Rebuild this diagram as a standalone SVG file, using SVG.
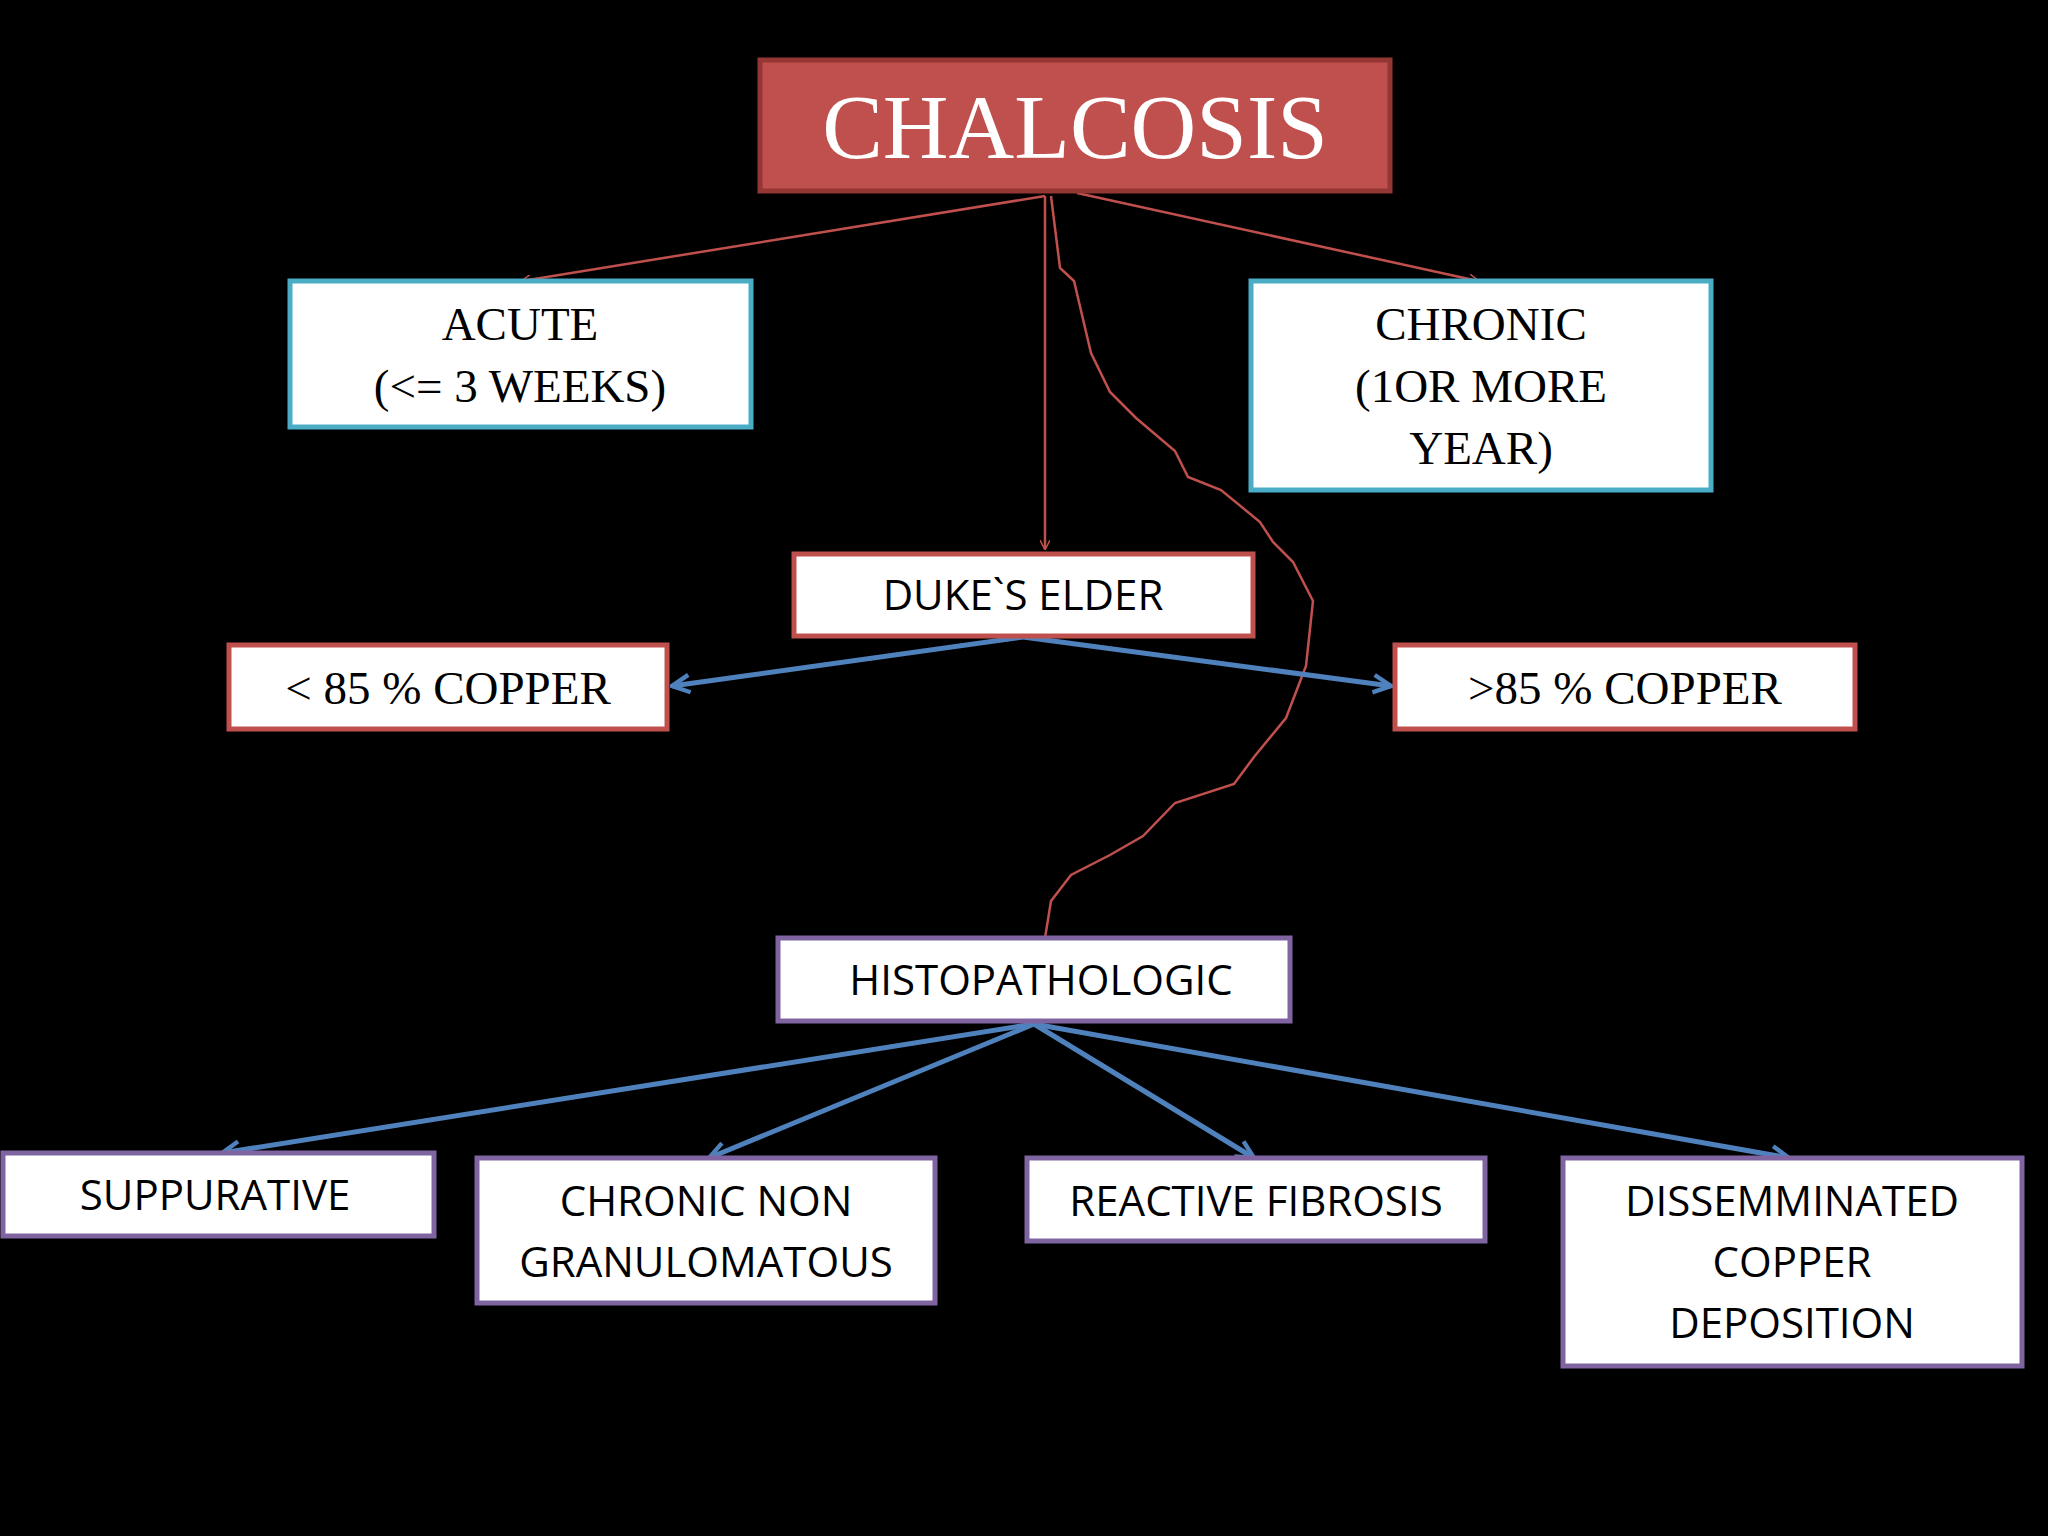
<svg xmlns="http://www.w3.org/2000/svg" width="2048" height="1536" viewBox="0 0 2048 1536">
<defs>
<style>
.box{fill:#fff;stroke-width:5}
.r{stroke:#c0504d}.b{stroke:#4bacc6}.p{stroke:#8064a2}
.serif{font-family:"Liberation Serif",serif;font-size:47px;fill:#000;text-anchor:middle}
.sans{font-family:"Open Sans","Noto Sans",sans-serif;font-size:42px;fill:#000;text-anchor:middle}
.rl{stroke:#c0504d;stroke-width:2.5;fill:none}
.bl{stroke:#4f81bd;stroke-width:5;fill:none}
</style>
<marker id="ra" viewBox="0 0 10 10" refX="9" refY="5" markerWidth="10" markerHeight="10" orient="auto" markerUnits="userSpaceOnUse"><path d="M0,0L10,5L0,10" fill="none" stroke="#c0504d" stroke-width="1.5"/></marker>
<marker id="ba" viewBox="0 0 10 10" refX="9" refY="5" markerWidth="22" markerHeight="22" orient="auto" markerUnits="userSpaceOnUse"><path d="M1,1L9,5L1,9" fill="none" stroke="#4f81bd" stroke-width="2"/></marker>
</defs>
<rect width="2048" height="1536" fill="#000"/>
<g id="connectors">
<line class="rl" x1="1045" y1="196" x2="522" y2="281" marker-end="url(#ra)"/>
<line class="rl" x1="1077" y1="193" x2="1478" y2="281" marker-end="url(#ra)"/>
<line class="rl" x1="1045" y1="196" x2="1045" y2="549" marker-end="url(#ra)"/>
<polyline class="rl" points="1051,196 1060,268 1074,281 1091,353 1110,392 1136,418 1175,451 1188,477 1221,490 1260,522 1273,542 1293,562 1313,601 1306,666 1286,718 1254,757 1234,784 1175,803 1143,836 1110,855 1071,875 1051,901 1045,938"/>
<line class="bl" x1="1023" y1="637" x2="672" y2="686" marker-end="url(#ba)"/>
<line class="bl" x1="1023" y1="637" x2="1391" y2="686" marker-end="url(#ba)"/>
<line class="bl" x1="1034" y1="1024" x2="222" y2="1153" marker-end="url(#ba)"/>
<line class="bl" x1="1034" y1="1024" x2="709" y2="1158" marker-end="url(#ba)"/>
<line class="bl" x1="1034" y1="1024" x2="1254" y2="1158" marker-end="url(#ba)"/>
<line class="bl" x1="1034" y1="1024" x2="1789" y2="1158" marker-end="url(#ba)"/>
</g>
<g id="chalcosis"><rect x="760" y="60" width="630" height="131" fill="#c0504d" stroke="#943634" stroke-width="5"/><text x="1075" y="158" font-family="Liberation Serif,serif" font-size="91" fill="#fff" text-anchor="middle">CHALCOSIS</text></g>
<g id="acute"><rect class="box b" x="290" y="281" width="461" height="146"/><text class="serif" x="520" y="340">ACUTE</text><text class="serif" x="520" y="402">(&lt;= 3 WEEKS)</text></g>
<g id="chronic"><rect class="box b" x="1251" y="281" width="460" height="209"/><text class="serif" x="1481" y="340">CHRONIC</text><text class="serif" x="1481" y="402">(1OR MORE</text><text class="serif" x="1481" y="464">YEAR)</text></g>
<g id="duke"><rect class="box r" x="794" y="554" width="459" height="82"/><text class="sans" x="1023" y="610">DUKE`S ELDER</text></g>
<g id="lt85"><rect class="box r" x="229" y="645" width="438" height="84"/><text class="serif" x="448" y="704">&lt; 85 % COPPER</text></g>
<g id="gt85"><rect class="box r" x="1395" y="645" width="460" height="84"/><text class="serif" x="1625" y="704">&gt;85 % COPPER</text></g>
<g id="histo"><rect class="box p" x="778" y="938" width="512" height="83"/><text class="sans" x="1041" y="995">HISTOPATHOLOGIC</text></g>
<g id="supp"><rect class="box p" x="3" y="1153" width="431" height="83"/><text class="sans" x="215" y="1210">SUPPURATIVE</text></g>
<g id="cng"><rect class="box p" x="477" y="1158" width="458" height="145"/><text class="sans" x="706" y="1216">CHRONIC NON</text><text class="sans" x="706" y="1277">GRANULOMATOUS</text></g>
<g id="reactive"><rect class="box p" x="1027" y="1158" width="458" height="83"/><text class="sans" x="1256" y="1216">REACTIVE FIBROSIS</text></g>
<g id="diss"><rect class="box p" x="1563" y="1158" width="459" height="208"/><text class="sans" x="1792" y="1216">DISSEMMINATED</text><text class="sans" x="1792" y="1277">COPPER</text><text class="sans" x="1792" y="1338">DEPOSITION</text></g>
</svg>
